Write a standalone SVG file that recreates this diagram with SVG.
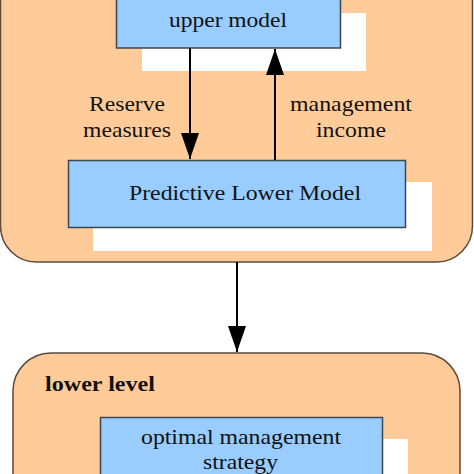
<svg xmlns="http://www.w3.org/2000/svg" width="474" height="474" viewBox="0 0 474 474">
<defs>
<style>
.cont{fill:#FFCC99;stroke:#5a4a3c;stroke-width:1.5}
.box{fill:#99CCFF;stroke:#3c4650;stroke-width:1.5}
.shadow{fill:#FFFFFF}
.t{font-family:"Liberation Serif","Times New Roman",serif;font-size:22px;fill:#111;text-anchor:middle}
.tb{font-family:"Liberation Serif","Times New Roman",serif;font-size:22px;font-weight:bold;fill:#111}
.edge{stroke:#000;stroke-width:2;fill:none}
</style>
<marker id="ahb" viewBox="0 0 10 10" refX="10" refY="5" markerWidth="26" markerHeight="18" markerUnits="userSpaceOnUse" orient="auto" preserveAspectRatio="none">
<path d="M0,0 L10,5 L0,10 Z" fill="#000"/>
</marker>
</defs>
<rect width="474" height="474" fill="#FFFFFF"/>
<g id="upper-level">
<rect class="cont" x="0.5" y="-60" width="472" height="322" rx="36" ry="36"/>
</g>
<g id="upper-model">
<rect class="shadow" x="142" y="13" width="224" height="58"/>
<rect class="box" x="116.5" y="-20" width="224" height="68"/>
<text class="t" x="228" y="27" textLength="118" lengthAdjust="spacingAndGlyphs">upper model</text>
</g>
<g id="predictive-lower-model">
<rect class="shadow" x="93" y="182" width="339" height="69"/>
<rect class="box" x="68.5" y="160.5" width="337" height="67"/>
<text class="t" x="245" y="200" textLength="232" lengthAdjust="spacingAndGlyphs">Predictive Lower Model</text>
</g>
<g id="lower-level">
<rect class="cont" x="13" y="353" width="447" height="200" rx="38" ry="38"/>
<text class="tb" x="45" y="391" textLength="110" lengthAdjust="spacingAndGlyphs">lower level</text>
</g>
<g id="optimal-management-strategy">
<rect class="shadow" x="108" y="439" width="300" height="60"/>
<rect class="box" x="100.5" y="417.5" width="282" height="80"/>
<text class="t" x="241" y="444" textLength="200" lengthAdjust="spacingAndGlyphs">optimal management</text>
<text class="t" x="240.5" y="469" textLength="75" lengthAdjust="spacingAndGlyphs">strategy</text>
</g>
<g id="connectors">
<line class="edge" x1="190" y1="48" x2="190" y2="159" marker-end="url(#ahb)"/>
<line class="edge" x1="275" y1="160" x2="275" y2="49" marker-end="url(#ahb)"/>
<line class="edge" x1="237" y1="262" x2="237" y2="352" marker-end="url(#ahb)"/>
<text class="t" x="127" y="111" textLength="76" lengthAdjust="spacingAndGlyphs">Reserve</text>
<text class="t" x="127" y="137" textLength="88" lengthAdjust="spacingAndGlyphs">measures</text>
<text class="t" x="351" y="111" textLength="122" lengthAdjust="spacingAndGlyphs">management</text>
<text class="t" x="351" y="137" textLength="70" lengthAdjust="spacingAndGlyphs">income</text>
</g>
</svg>
